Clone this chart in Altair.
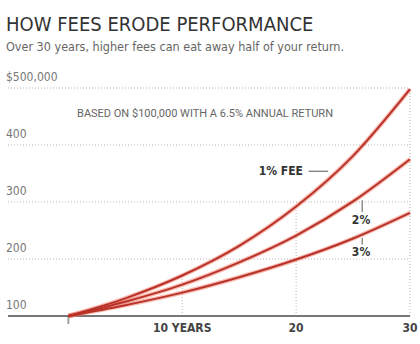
import altair as alt
import pandas as pd

# ---- data (values in thousands of dollars) ----
years = [0, 5, 10, 15, 20, 25, 30]
fee_1 = [100, 131, 171, 223, 292, 381, 498]
fee_2 = [100, 125, 155, 194, 241, 301, 375]
fee_3 = [100, 119, 141, 168, 199, 236, 281]
series_names = ["1%", "2%", "3%"]

y_ticks = [100, 200, 300, 400, 500]
y_tick_labels = ["100", "200", "300", "400", "$500,000"]
x_ticks = [10, 20, 30]
x_tick_labels = ["10 YEARS", "20", "30"]
x_grid_top = [171, 292, 500]

X_MIN, X_MAX = -5.3, 30
Y_MIN, Y_MAX = 100, 500

rows = []
for name, vals in zip(series_names, [fee_1, fee_2, fee_3]):
    for yr, v in zip(years, vals):
        rows.append({"series": name, "year": yr, "value": v})
curves = pd.DataFrame(rows)

xs = alt.Scale(domain=[X_MIN, X_MAX], nice=False, zero=False)
ys = alt.Scale(domain=[Y_MIN, Y_MAX], nice=False, zero=False)

FONT = "DejaVu Sans Condensed, sans-serif"

# horizontal dotted gridlines
hgrid_df = pd.DataFrame({"v": y_ticks[1:], "x0": X_MIN, "x1": X_MAX})
hgrid = alt.Chart(hgrid_df).mark_rule(color="#b5b5b5", strokeDash=[1, 2], strokeWidth=1).encode(
    x=alt.X("x0:Q", scale=xs, axis=None), x2="x1:Q", y=alt.Y("v:Q", scale=ys, axis=None)
)

# vertical dotted gridlines
vgrid_df = pd.DataFrame({"x": x_ticks, "top": x_grid_top, "bot": Y_MIN})
vgrid = alt.Chart(vgrid_df).mark_rule(color="#b5b5b5", strokeDash=[1, 2], strokeWidth=1).encode(
    x=alt.X("x:Q", scale=xs), y=alt.Y("bot:Q", scale=ys), y2="top:Q"
)

# baseline
base_df = pd.DataFrame({"x0": [X_MIN], "x1": [X_MAX], "v": [Y_MIN]})
baseline = alt.Chart(base_df).mark_rule(color="#777777", strokeWidth=2).encode(
    x=alt.X("x0:Q", scale=xs), x2="x1:Q", y=alt.Y("v:Q", scale=ys)
)
zero_tick = alt.Chart(pd.DataFrame({"x": [0], "v": [Y_MIN]})).mark_tick(
    orient="vertical", color="#777777", size=8, thickness=2, yOffset=4
).encode(x=alt.X("x:Q", scale=xs), y=alt.Y("v:Q", scale=ys))

# y labels
ylab_df = pd.DataFrame({"v": y_ticks, "label": y_tick_labels, "x": X_MIN})
ylabels = alt.Chart(ylab_df).mark_text(
    align="left", baseline="bottom", dy=-4, dx=-2, font=FONT, fontSize=12, color="#777777"
).encode(x=alt.X("x:Q", scale=xs), y=alt.Y("v:Q", scale=ys), text="label:N")

# x labels
xlab_df = pd.DataFrame({"x": x_ticks, "label": x_tick_labels, "v": Y_MIN})
xlabels = alt.Chart(xlab_df).mark_text(
    align="center", baseline="top", dy=7, font=FONT, fontSize=12, fontWeight="bold", color="#444444"
).encode(x=alt.X("x:Q", scale=xs), y=alt.Y("v:Q", scale=ys), text="label:N")

# curves: soft halo + core line
halo = alt.Chart(curves).mark_line(interpolate="monotone", strokeWidth=4.5, color="#ef6a55", opacity=0.45).encode(
    x=alt.X("year:Q", scale=xs), y=alt.Y("value:Q", scale=ys), detail="series:N"
)
core = alt.Chart(curves).mark_line(interpolate="monotone", strokeWidth=2, color="#b8322a").encode(
    x=alt.X("year:Q", scale=xs), y=alt.Y("value:Q", scale=ys), detail="series:N"
)

# annotations
ann_text = ["1% FEE", "2%", "3%"]
ann_x = [20.6, 25.7, 25.7]
ann_y = [354, 268, 212]
ann_align = ["right", "center", "center"]
ann_df = pd.DataFrame({"t": ann_text, "x": ann_x, "v": ann_y, "a": ann_align})
ann_halo = alt.Chart(ann_df[ann_df.a == "center"]).mark_text(
    baseline="middle", align="center", font=FONT, fontSize=12, fontWeight="bold", color="white", stroke="white", strokeWidth=5
).encode(x=alt.X("x:Q", scale=xs), y=alt.Y("v:Q", scale=ys), text="t:N")
ann_c = alt.Chart(ann_df[ann_df.a == "center"]).mark_text(
    baseline="middle", align="center", font=FONT, fontSize=12, fontWeight="bold", color="#333333"
).encode(x=alt.X("x:Q", scale=xs), y=alt.Y("v:Q", scale=ys), text="t:N")
ann_r = alt.Chart(ann_df[ann_df.a == "right"]).mark_text(
    baseline="middle", align="right", font=FONT, fontSize=12, fontWeight="bold", color="#333333"
).encode(x=alt.X("x:Q", scale=xs), y=alt.Y("v:Q", scale=ys), text="t:N")

# leader lines
lead_x0 = [21.1, 25.8, 25.8]
lead_x1 = [22.8, 25.8, 25.8]
lead_y0 = [354, 303, 237]
lead_y1 = [354, 282, 225]
lead_df = pd.DataFrame({"x0": lead_x0, "x1": lead_x1, "y0": lead_y0, "y1": lead_y1})
leaders = alt.Chart(lead_df).mark_rule(color="#555555", strokeWidth=1).encode(
    x=alt.X("x0:Q", scale=xs), x2="x1:Q", y=alt.Y("y0:Q", scale=ys), y2="y1:Q"
)

note_df = pd.DataFrame({"t": ["BASED ON $100,000 WITH A 6.5% ANNUAL RETURN"], "x": [12.0], "v": [454]})
note = alt.Chart(note_df).mark_text(
    baseline="middle", align="center", font="Roboto, sans-serif", fontSize=11, color="#666666"
).encode(x=alt.X("x:Q", scale=xs), y=alt.Y("v:Q", scale=ys), text="t:N")

chart = alt.layer(
    hgrid, vgrid, baseline, zero_tick, ylabels, xlabels, halo, core,
    leaders, ann_halo, ann_c, ann_r, note
).properties(
    width=402,
    height=228,
    padding={"left": 8, "top": 88, "right": 10, "bottom": 28},
    autosize=alt.AutoSizeParams(type="none"),
    title=alt.TitleParams(
        text="HOW FEES ERODE PERFORMANCE",
        subtitle="Over 30 years, higher fees can eat away half of your return.",
        anchor="start",
        frame="group",
        dx=-2,
        offset=18,
        font=FONT,
        fontSize=20,
        fontWeight="normal",
        color="#333333",
        subtitleFont=FONT,
        subtitleFontSize=12.5,
        subtitleColor="#666666",
        subtitlePadding=6,
    ),
).configure_view(stroke=None)

chart.save("out.html", embed_options={"renderer": "svg", "actions": False})
